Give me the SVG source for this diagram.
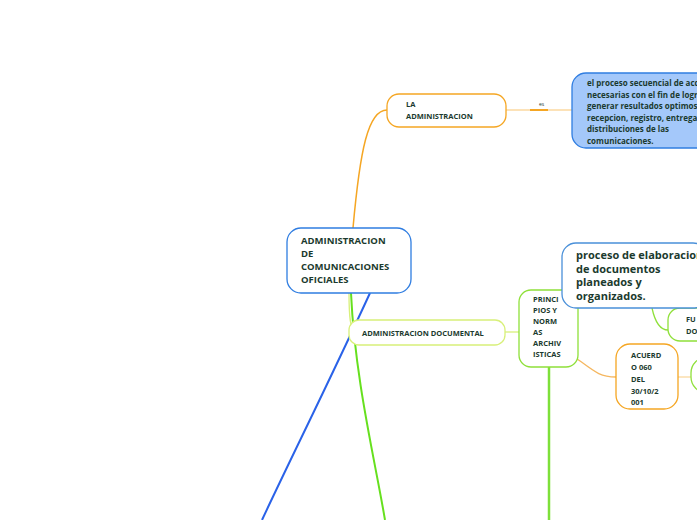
<svg xmlns="http://www.w3.org/2000/svg" width="697" height="520" viewBox="0 0 697 520">
<style>
text{font-family:"Open Sans","Noto Sans",sans-serif;font-weight:bold;fill:#1b3a2e}
.s{font-size:7.5px}.m{font-size:8px}.l{font-size:11px}
.n{fill:#fff;stroke-width:1.3}
.c{fill:none}
</style>
<rect width="697" height="520" fill="#fff"/>
<g id="connectors">
<path class="c" d="M353,228 C360,150 368,110 387,110" stroke="#f5a623" stroke-width="1.5"/>
<path class="c" d="M506,110 H572" stroke="#fbd9a0" stroke-width="1.5"/>
<path d="M530,110 H548" stroke="#f5a623" stroke-width="2"/>
<path class="c" d="M349,293 C349,315 350,332 356,332" stroke="#d8f07a" stroke-width="1.3"/>
<path class="c" d="M351,293 C355,380 375,460 385,520" stroke="#66e01e" stroke-width="2"/>
<path class="c" d="M370,293 C330,380 290,460 262,520" stroke="#2a62e8" stroke-width="2"/>
<path class="c" d="M505,332 H519" stroke="#d8f07a" stroke-width="1.3"/>
<path class="c" d="M549,367 V520" stroke="#7ee03a" stroke-width="2.5"/>
<path class="c" d="M576,358 C595,372 600,377 616,377" stroke="#f5b760" stroke-width="1.3"/>
<path class="c" d="M678,377 H691" stroke="#fbd9a0" stroke-width="1.3"/>
<path class="c" d="M652,308 C655,322 660,330 668,330" stroke="#8fe03a" stroke-width="1.3"/>
<text x="539" y="106" style="font-size:5px;font-weight:normal">es</text>
</g>
<g id="central"><rect class="n" x="287" y="228" width="124" height="65" rx="14" stroke="#2f7de1"/>
<text class="m" style="font-size:9.5px"><tspan x="301" y="244">ADMINISTRACION</tspan><tspan x="301" y="257">DE</tspan><tspan x="301" y="270">COMUNICACIONES</tspan><tspan x="301" y="283">OFICIALES</tspan></text></g>
<g id="la-admin"><rect class="n" x="387" y="94" width="119" height="33" rx="12" stroke="#f5a623"/>
<text class="s"><tspan x="406" y="107">LA</tspan><tspan x="406" y="119">ADMINISTRACION</tspan></text></g>
<g id="def"><rect x="572" y="73" width="140" height="75" rx="14" fill="#a4c8fa" stroke="#2f7de1" stroke-width="1.3"/>
<text class="m"><tspan x="587" y="86">el proceso secuencial de acciones</tspan><tspan x="587" y="97.5">necesarias con el fin de lograr</tspan><tspan x="587" y="109">generar resultados optimos en la</tspan><tspan x="587" y="120.5">recepcion, registro, entrega y</tspan><tspan x="587" y="132">distribuciones de las</tspan><tspan x="587" y="143.5">comunicaciones.</tspan></text></g>
<g id="admin-doc"><rect class="n" x="349" y="320" width="156" height="25" rx="10" stroke="#d8f07a"/>
<text class="s" x="362" y="336">ADMINISTRACION DOCUMENTAL</text></g>
<g id="principios"><rect class="n" x="519" y="290" width="59" height="77" rx="12" stroke="#8fe03a"/>
<text class="s"><tspan x="533" y="302">PRINCI</tspan><tspan x="533" y="313">PIOS Y</tspan><tspan x="533" y="324">NORM</tspan><tspan x="533" y="335">AS</tspan><tspan x="533" y="346">ARCHIV</tspan><tspan x="533" y="357">ISTICAS</tspan></text></g>
<g id="fu"><rect class="n" x="668" y="308" width="45" height="33" rx="12" stroke="#8fe03a"/>
<text class="s"><tspan x="686" y="322">FU</tspan><tspan x="686" y="334">DO</tspan></text></g>
<g id="proceso"><rect class="n" x="562" y="243" width="145" height="65" rx="14" stroke="#4a90d9"/>
<text class="l"><tspan x="576" y="259">proceso de elaboracion</tspan><tspan x="576" y="273">de documentos</tspan><tspan x="576" y="286">planeados y</tspan><tspan x="576" y="300">organizados.</tspan></text></g>
<g id="acuerdo"><rect class="n" x="616" y="344" width="62" height="65" rx="14" stroke="#f5a623"/>
<text class="s"><tspan x="631" y="358">ACUERD</tspan><tspan x="631" y="370">O 060</tspan><tspan x="631" y="382">DEL</tspan><tspan x="631" y="394">30/10/2</tspan><tspan x="631" y="405">001</tspan></text></g>
<g id="green-node"><rect class="n" x="691" y="357" width="40" height="36" rx="16" stroke="#8fe03a"/></g>
</svg>
